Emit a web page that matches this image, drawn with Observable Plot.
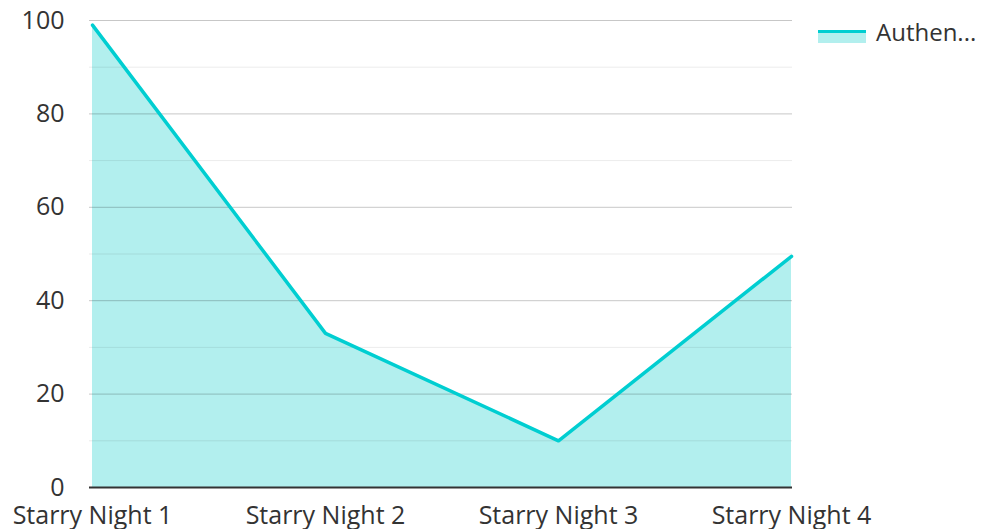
<!DOCTYPE html>
<html>
<head>
<meta charset="utf-8">
<script src="https://cdn.jsdelivr.net/npm/d3@7"></script>
<script src="https://cdn.jsdelivr.net/npm/@observablehq/plot@0.6"></script>
<style>
  html, body { margin: 0; padding: 0; background: #fff; }
  #wrap { position: relative; width: 982px; height: 529px; font-family: "Open Sans", "Noto Sans", sans-serif; }
  #legend { position: absolute; left: 818px; top: 16px; display: flex; align-items: center; }
  #legend .sw { width: 48px; height: 10px; border-top: 3px solid #00ced1; background: #b2efee; margin-top: 8px; }
  #legend .lbl { margin-left: 10px; font-size: 24px; color: #333; line-height: 32px; }
  svg { overflow: visible; }
</style>
</head>
<body>
<div id="wrap"></div>
<script>
const categories = ["Starry Night 1", "Starry Night 2", "Starry Night 3", "Starry Night 4"];
const values = [99, 33, 10, 49.5];
const seriesName = "Authen...";
const majorTicks = [0, 20, 40, 60, 80, 100];
const minorTicks = [10, 30, 50, 70, 90];

const lineColor = "#00ced1";
const fillColor = "#b2efee";

const data = categories.map((c, i) => ({ cat: c, v: values[i] }));

const chart = Plot.plot({
  width: 982,
  height: 529,
  marginLeft: 91,
  marginRight: 190,
  marginTop: 20,
  marginBottom: 42,
  style: { fontFamily: "'Open Sans', 'Noto Sans', sans-serif", fontSize: "25px", color: "#333", background: "#fff", overflow: "visible" },
  x: { type: "point", domain: categories, padding: 0, label: null },
  y: { domain: [0, 100], label: null },
  marks: [
    Plot.areaY(data, { x: "cat", y: "v", fill: fillColor, fillOpacity: 1 }),
    Plot.ruleY(minorTicks, { stroke: "#000", strokeOpacity: 0.08, insetLeft: -2 }),
    Plot.ruleY(majorTicks.filter(d => d !== 0), { stroke: "#000", strokeOpacity: 0.22, insetLeft: -2 }),
    Plot.lineY(data, { x: "cat", y: "v", stroke: lineColor, strokeWidth: 3.5 }),
    Plot.ruleY([0], { stroke: "#333", strokeWidth: 2, insetLeft: -2 }),
    Plot.axisY({ ticks: majorTicks, tickSize: 0, tickPadding: 27, fontSize: 25, fill: "#333" }),
    Plot.axisX({ tickSize: 0, tickPadding: 19, fontSize: 25, fill: "#333" })
  ]
});

const wrap = document.getElementById("wrap");
wrap.appendChild(chart);
const legend = document.createElement("div");
legend.id = "legend";
legend.innerHTML = `<div class="sw"></div><div class="lbl"></div>`;
legend.querySelector(".lbl").textContent = seriesName;
wrap.appendChild(legend);
</script>
</body>
</html>
